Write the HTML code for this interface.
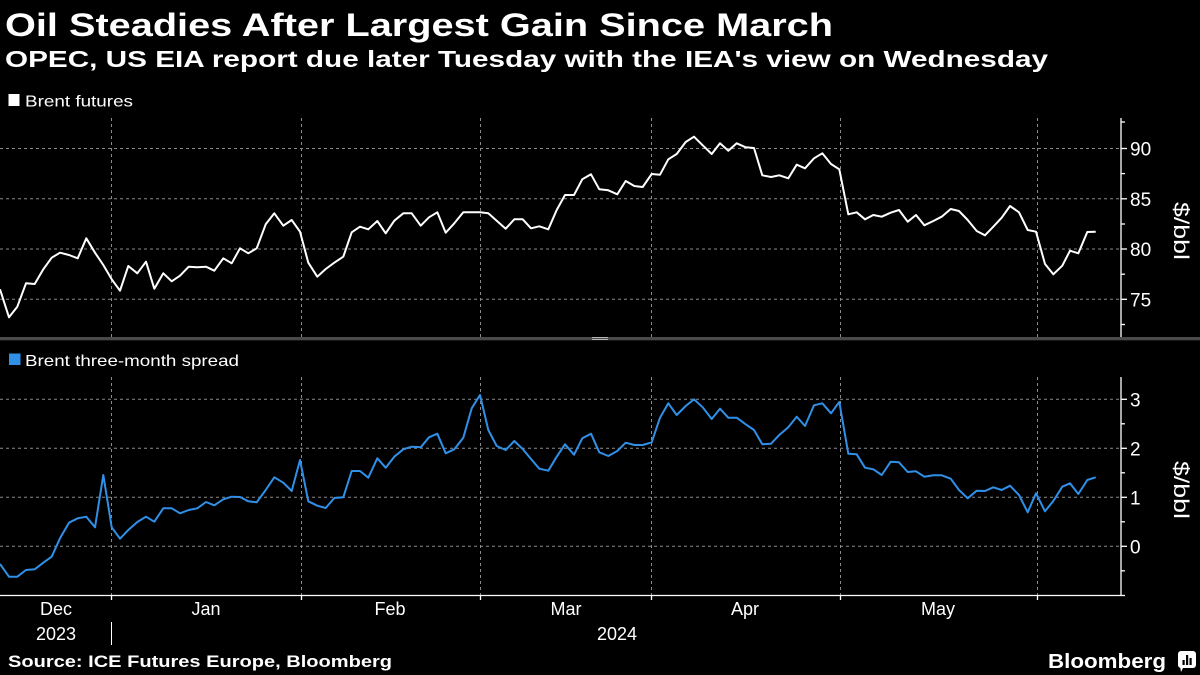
<!DOCTYPE html>
<html>
<head>
<meta charset="utf-8">
<style>
  html, body { margin: 0; padding: 0; background: #000; }
  svg { display: block; }
  text { font-family: "Liberation Sans", "DejaVu Sans", sans-serif; fill: #fff; }
</style>
</head>
<body>
<svg width="1200" height="675" viewBox="0 0 1200 675" xmlns="http://www.w3.org/2000/svg">
  <rect x="0" y="0" width="1200" height="675" fill="#000"/>

  <!-- Titles -->
  <text x="5" y="36" font-size="32" font-weight="bold" textLength="828" lengthAdjust="spacingAndGlyphs">Oil Steadies After Largest Gain Since March</text>
  <text x="5" y="67" font-size="23.5" font-weight="bold" textLength="1043" lengthAdjust="spacingAndGlyphs">OPEC, US EIA report due later Tuesday with the IEA's view on Wednesday</text>

  <!-- Legend top -->
  <rect x="8.5" y="94" width="11" height="12" fill="#fff"/>
  <text x="25" y="106.5" font-size="16" textLength="108" lengthAdjust="spacingAndGlyphs">Brent futures</text>

  <!-- Top panel grid -->
  <g stroke="#8a8a8a" stroke-width="1" stroke-dasharray="3,3" fill="none">
    <line x1="0" y1="148.5" x2="1121" y2="148.5"/>
    <line x1="0" y1="198.8" x2="1121" y2="198.8"/>
    <line x1="0" y1="249" x2="1121" y2="249"/>
    <line x1="0" y1="299.3" x2="1121" y2="299.3"/>
    <line x1="111.5" y1="118" x2="111.5" y2="337"/>
    <line x1="301.5" y1="118" x2="301.5" y2="337"/>
    <line x1="480.5" y1="118" x2="480.5" y2="337"/>
    <line x1="651.5" y1="118" x2="651.5" y2="337"/>
    <line x1="840.5" y1="118" x2="840.5" y2="337"/>
    <line x1="1037.5" y1="118" x2="1037.5" y2="337"/>
  </g>

  <!-- Top y axis -->
  <g stroke="#fff" stroke-width="1.3" fill="none">
    <line x1="1121" y1="118" x2="1121" y2="337"/>
    <line x1="1121" y1="148.5" x2="1127" y2="148.5"/>
    <line x1="1121" y1="198.8" x2="1127" y2="198.8"/>
    <line x1="1121" y1="249" x2="1127" y2="249"/>
    <line x1="1121" y1="299.3" x2="1127" y2="299.3"/>
    <line x1="1121" y1="122" x2="1125" y2="122"/>
    <line x1="1121" y1="173.6" x2="1125" y2="173.6"/>
    <line x1="1121" y1="224" x2="1125" y2="224"/>
    <line x1="1121" y1="274.2" x2="1125" y2="274.2"/>
    <line x1="1121" y1="324.5" x2="1125" y2="324.5"/>
  </g>
  <g font-size="19">
    <text x="1130" y="155.5">90</text>
    <text x="1130" y="205.8">85</text>
    <text x="1130" y="256">80</text>
    <text x="1130" y="306.3">75</text>
  </g>
  <text transform="translate(1174,231) rotate(90)" text-anchor="middle" font-size="21" textLength="58" lengthAdjust="spacingAndGlyphs">$/bbl</text>

  <!-- Top series -->
  <polyline fill="none" stroke="#fff" stroke-width="2" stroke-linejoin="round" points="0,289.3 9,317.3 17.3,306.7 26,283.3 34.7,284 43.3,269.3 51.7,257.7 60,252.7 69,255 77.7,258.3 86.3,238.3 95,252.7 103.3,265 111.7,279.3 120,290.7 128.3,266 137.3,273.3 146,261.7 154.3,288.7 163.3,273.3 171.7,281.3 180,275.7 188.7,266.7 197.3,267.3 206,266.7 214.3,270.7 223.3,258.3 231.7,263.3 240,248.3 248.3,253.3 256.7,248.3 265.7,224.3 274.3,213.3 283.3,225.7 291.7,220 300,231.7 308.3,262.7 317.3,276.7 325.7,269 334.3,262.7 343.3,256.7 351.7,232.3 360,226.7 368.3,229.3 377.3,221 385.7,233.3 394.3,220.7 403.3,213.3 411.7,213.3 420.7,225.7 429,217.3 437.3,212.3 445.7,232.7 454.3,223.3 463.3,212.3 471.7,212.3 480,212.3 488.3,213.3 496.7,220.7 505.7,228.7 514.3,219.3 522.7,219.3 531,228.3 539.3,226.3 548.3,229.3 556.7,210 565,195 574,195 582.3,179.3 591,174.3 599.3,189.3 608.3,190.3 617.3,194.3 625.7,181 634.3,186 642.7,187 651.7,174 660,174.7 668.3,159.3 676.7,154 685.7,142 694,136.7 702.7,145.3 711.7,154 720,143.3 728.3,150.7 736.7,143.3 745.7,147.3 754,148 762.3,175.3 771,177 779.3,175.3 788.3,178.3 796.7,164.7 805,168.3 814,158.3 822.3,153.3 831,164 839.3,169.3 848.3,214.3 856.7,212.3 865,219.3 873.3,215 881.7,216.7 890.7,212.7 899,210 907.7,221.7 916,215 924.3,225.3 933.3,221 941.7,216.7 950.7,209 959,211 967.7,220 976.7,231 985,235.3 993.3,226.7 1001.7,217.7 1010,206 1019,212.3 1027.7,230 1036,231.7 1045,264 1053.3,274.3 1062.3,265.7 1070,250.7 1078.3,253.3 1087.3,232 1095.7,231.7"/>

  <!-- Separator -->
  <rect x="0" y="337" width="1200" height="3.3" fill="#4a4a4a"/>
  <line x1="592" y1="337.6" x2="608" y2="337.6" stroke="#cfcfcf" stroke-width="0.8"/>
  <line x1="592" y1="339.6" x2="608" y2="339.6" stroke="#cfcfcf" stroke-width="0.8"/>

  <!-- Legend bottom -->
  <rect x="9" y="353.5" width="11.5" height="11.5" fill="#3090e8"/>
  <text x="25" y="366" font-size="16" textLength="214" lengthAdjust="spacingAndGlyphs">Brent three-month spread</text>

  <!-- Bottom panel grid -->
  <g stroke="#8a8a8a" stroke-width="1" stroke-dasharray="3,3" fill="none">
    <line x1="0" y1="399.3" x2="1121" y2="399.3"/>
    <line x1="0" y1="448.3" x2="1121" y2="448.3"/>
    <line x1="0" y1="497.3" x2="1121" y2="497.3"/>
    <line x1="0" y1="546.3" x2="1121" y2="546.3"/>
    <line x1="111.5" y1="377" x2="111.5" y2="595"/>
    <line x1="301.5" y1="377" x2="301.5" y2="595"/>
    <line x1="480.5" y1="377" x2="480.5" y2="595"/>
    <line x1="651.5" y1="377" x2="651.5" y2="595"/>
    <line x1="840.5" y1="377" x2="840.5" y2="595"/>
    <line x1="1037.5" y1="377" x2="1037.5" y2="595"/>
  </g>

  <!-- Bottom y axis & x axis -->
  <g stroke="#fff" stroke-width="1.3" fill="none">
    <line x1="1121" y1="377" x2="1121" y2="595.5"/>
    <line x1="1121" y1="595.5" x2="1125" y2="595.5"/>
    <line x1="1121" y1="399.3" x2="1127" y2="399.3"/>
    <line x1="1121" y1="448.3" x2="1127" y2="448.3"/>
    <line x1="1121" y1="497.3" x2="1127" y2="497.3"/>
    <line x1="1121" y1="546.3" x2="1127" y2="546.3"/>
    <line x1="1121" y1="423.8" x2="1125" y2="423.8"/>
    <line x1="1121" y1="472.8" x2="1125" y2="472.8"/>
    <line x1="1121" y1="521.8" x2="1125" y2="521.8"/>
    <line x1="1121" y1="570.8" x2="1125" y2="570.8"/>
    <line x1="0" y1="595.5" x2="1121" y2="595.5"/>
    <line x1="111.5" y1="595.5" x2="111.5" y2="600"/>
    <line x1="301.5" y1="595.5" x2="301.5" y2="600"/>
    <line x1="480.5" y1="595.5" x2="480.5" y2="600"/>
    <line x1="651.5" y1="595.5" x2="651.5" y2="600"/>
    <line x1="840.5" y1="595.5" x2="840.5" y2="600"/>
    <line x1="1037.5" y1="595.5" x2="1037.5" y2="600"/>
    <line x1="111.5" y1="622" x2="111.5" y2="645" stroke-width="1"/>
  </g>
  <g font-size="19">
    <text x="1130" y="406.3">3</text>
    <text x="1130" y="455.3">2</text>
    <text x="1130" y="504.3">1</text>
    <text x="1130" y="553.3">0</text>
  </g>
  <text transform="translate(1174,490) rotate(90)" text-anchor="middle" font-size="21" textLength="58" lengthAdjust="spacingAndGlyphs">$/bbl</text>

  <!-- Bottom series -->
  <polyline fill="none" stroke="#3090e8" stroke-width="2" stroke-linejoin="round" points="0,564 9,576.7 17.3,576.7 26,570 34.7,569.3 43.3,562.7 51.7,556.7 60,538.3 69,522.7 77.7,518.3 86.3,516.7 95,527.3 103.3,475 111.7,527.3 120,538.7 128.3,530 137.3,522 146,516.7 154.3,521.7 163.3,508.3 171.7,508.3 180,513.3 188.7,510 197.3,508.3 206,502 214.3,505.3 223.3,499.3 231.7,496.7 240,497 248.3,501.3 256.7,502.3 265.7,490 274.3,477.3 283.3,482.7 291.7,491 300,460 308.3,501.3 317.3,505.7 325.7,508 334.3,498 343.3,497.3 351.7,471 360,471 368.3,477.7 377.3,458.3 385.7,467.7 394.3,456.7 403.3,449.3 411.7,446.7 420.7,447.3 429,437.3 437.3,433.7 445.7,453.3 454.3,449.3 463.3,437.7 471.7,408.3 480,395 488.3,430 496.7,446 505.7,450 514.3,441 522.7,449 531,459 539.3,468.7 548.3,470.7 556.7,456.7 565,444.3 574,454.7 582.3,438.3 591,433.7 599.3,452.3 608.3,456 617.3,451 625.7,442.7 634.3,445 642.7,445 651.7,442.3 660,417.7 668.3,403.3 676.7,415 685.7,406 694,399.3 702.7,407.3 711.7,419 720,408.7 728.3,417.7 736.7,417.7 745.7,424.3 754,430 762.3,444.3 771,443.7 779.3,435 788.3,427.3 796.7,416.7 805,426 814,405.3 822.3,403.3 831,413.3 839.3,402 848.3,453.7 856.7,454.3 865,467.7 873.3,469.3 881.7,475 890.7,461.7 899,462.3 907.7,472 916,471.3 924.3,476.7 933.3,475.3 941.7,475.3 950.7,478.7 959,490 967.7,498.3 976.7,490.7 985,491 993.3,487.3 1001.7,490 1010,485.7 1019,495 1027.7,512.3 1036,493.3 1045,511.3 1053.3,501 1062.3,486.7 1070,483.3 1078.3,494 1087.3,480 1095.7,477.3"/>

  <!-- X labels -->
  <g font-size="18" text-anchor="middle">
    <text x="56" y="615">Dec</text>
    <text x="206" y="615">Jan</text>
    <text x="390" y="615">Feb</text>
    <text x="566" y="615">Mar</text>
    <text x="745" y="615">Apr</text>
    <text x="938" y="615">May</text>
    <text x="56" y="640">2023</text>
    <text x="617" y="640">2024</text>
  </g>

  <!-- Footer -->
  <text x="8" y="667" font-size="16.5" font-weight="bold" textLength="384" lengthAdjust="spacingAndGlyphs">Source: ICE Futures Europe, Bloomberg</text>
  <text x="1048" y="668" font-size="20" font-weight="bold" textLength="118" lengthAdjust="spacingAndGlyphs">Bloomberg</text>
  <g>
    <rect x="1178" y="651" width="18" height="17" rx="3" fill="#fff"/>
    <polygon points="1180,666 1184,666 1181,672" fill="#fff"/>
    <rect x="1182.5" y="660" width="2.2" height="5" fill="#000"/>
    <rect x="1186" y="655" width="2.2" height="10" fill="#000"/>
    <rect x="1189.5" y="658" width="2.2" height="7" fill="#000"/>
  </g>
</svg>
</body>
</html>
